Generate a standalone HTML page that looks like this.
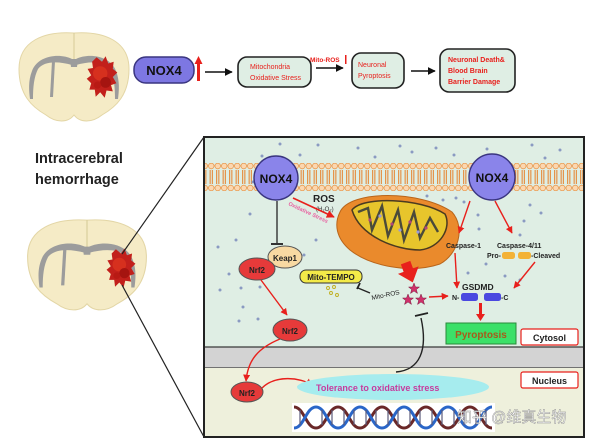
<!DOCTYPE html>
<html><head><meta charset="utf-8"><style>
html,body{margin:0;padding:0;background:#fff;}
svg{display:block;font-family:"Liberation Sans",Arial,sans-serif;}
</style></head><body>
<svg width="600" height="440" viewBox="0 0 600 440" xmlns="http://www.w3.org/2000/svg">
<defs>
<marker id="ab" viewBox="0 0 10 10" refX="9" refY="5" markerWidth="5" markerHeight="5" orient="auto"><path d="M0,0L10,5L0,10z" fill="#111"/></marker>
<marker id="ar" viewBox="0 0 10 10" refX="9" refY="5" markerWidth="5" markerHeight="5" orient="auto"><path d="M0,0L10,5L0,10z" fill="#e8201c"/></marker>
<pattern id="lip" x="0" y="163" width="6.5" height="28" patternUnits="userSpaceOnUse">
<circle cx="3.25" cy="3" r="2.8" fill="#fbd7b0" stroke="#e99a50" stroke-width="0.8"/>
<circle cx="3.25" cy="25" r="2.8" fill="#fbd7b0" stroke="#e99a50" stroke-width="0.8"/>
<rect x="1.6" y="7" width="1.1" height="14" fill="#e58a3a"/>
<rect x="3.8" y="7" width="1.1" height="14" fill="#e58a3a"/>
</pattern>
<g id="brain">
<path d="M0,-44 C30,-46 55,-36 55,-8 C55,18 42,30 28,38 C18,46 6,46 0,38 C-6,46 -18,46 -28,38 C-42,30 -55,18 -55,-8 C-55,-36 -30,-46 0,-44z" fill="#f5ebc6" stroke="#e3d6a6" stroke-width="1"/>
<line x1="0" y1="-44" x2="0" y2="-16" stroke="#d6cb98" stroke-width="1"/>
<path d="M-2,-18 C-14,-24 -36,-22 -42,-6 C-46,4 -45,14 -44,22 L-41,22 C-41,10 -40,0 -36,-8 C-30,-16 -16,-16 -2,-12z" fill="#9c9c9c"/>
<path d="M2,-18 C14,-24 36,-22 42,-6 C46,4 45,14 44,22 L41,22 C41,10 40,0 36,-8 C30,-16 16,-16 2,-12z" fill="#9c9c9c"/>
<path d="M-22,-16 L-24,20 L-21,20 L-19,-16z" fill="#9c9c9c"/>
<path d="M-4,-18 L4,-18 L3,-10 L-3,-10z" fill="#9c9c9c"/>
</g>
<g id="blood">
<path d="M-6,-22 L0,-17 L4,-23 L7,-15 L13,-17 L12,-9 L17,-5 L12,0 L16,7 L10,9 L12,16 L5,15 L3,23 L-2,17 L-7,22 L-8,14 L-14,14 L-12,7 L-17,2 L-12,-2 L-16,-9 L-10,-10 L-11,-17z" fill="#c2201b"/>
<circle cx="-2" cy="-4" r="8" fill="#d6301e"/><circle cx="4" cy="6" r="6" fill="#a51410"/><circle cx="-5" cy="9" r="4" fill="#b81a14"/>
</g>
</defs>

<!-- top row -->
<g transform="translate(74,77)"><use href="#brain"/></g>
<g transform="translate(102,77) scale(0.9)"><use href="#blood"/></g>
<rect x="134" y="57" width="60" height="26" rx="12" fill="#7d77e2" stroke="#3a3580" stroke-width="1.5"/>
<text x="164" y="75" font-size="13" font-weight="bold" text-anchor="middle" fill="#111">NOX4</text>
<path d="M197,81 L197,64 L194.5,64 L198.5,56 L202.5,64 L200,64 L200,81z" fill="#e8201c"/>
<line x1="205" y1="72" x2="232" y2="72" stroke="#111" stroke-width="1.6" marker-end="url(#ab)"/>
<rect x="238" y="57" width="73" height="30" rx="9" fill="#dfeee4" stroke="#222" stroke-width="1.6"/>
<text x="250" y="69" font-size="7" fill="#e8201c">Mitochondria</text>
<text x="250" y="80" font-size="7" fill="#e8201c">Oxidative Stress</text>
<text x="310" y="62" font-size="6.5" fill="#e8201c" font-weight="bold">Mito-ROS</text>
<rect x="345" y="55" width="1.5" height="9" fill="#e8201c"/>
<line x1="316" y1="68" x2="343" y2="68" stroke="#111" stroke-width="1.6" marker-end="url(#ab)"/>
<rect x="352" y="53" width="52" height="35" rx="9" fill="#dfeee4" stroke="#222" stroke-width="1.6"/>
<text x="358" y="67" font-size="7" fill="#e8201c">Neuronal</text>
<text x="358" y="78" font-size="7" fill="#e8201c">Pyroptosis</text>
<line x1="411" y1="71" x2="435" y2="71" stroke="#111" stroke-width="1.6" marker-end="url(#ab)"/>
<rect x="440" y="49" width="75" height="43" rx="9" fill="#dfeee4" stroke="#222" stroke-width="1.6"/>
<text x="448" y="62" font-size="7" fill="#e8201c" font-weight="bold">Neuronal Death&amp;</text>
<text x="448" y="73" font-size="7" fill="#e8201c" font-weight="bold">Blood Brain</text>
<text x="448" y="84" font-size="7" fill="#e8201c" font-weight="bold">Barrier Damage</text>

<text x="35" y="163" font-size="14.5" font-weight="bold" fill="#222">Intracerebral</text>
<text x="35" y="184" font-size="14.5" font-weight="bold" fill="#222">hemorrhage</text>
<g transform="translate(87,265) scale(1.08,1.02)"><use href="#brain"/></g>
<g transform="translate(121,268) scale(0.85)"><use href="#blood"/></g>
<line x1="122" y1="254" x2="204" y2="137" stroke="#222" stroke-width="1.2"/>
<line x1="122" y1="285" x2="204" y2="437" stroke="#222" stroke-width="1.2"/>

<!-- main box -->
<rect x="204" y="137" width="380" height="210" fill="#dfeee4"/>
<rect x="204" y="163" width="380" height="28" fill="url(#lip)"/>
<rect x="204" y="347" width="380" height="21" fill="#d3d3d3" stroke="#333" stroke-width="1.2"/>
<rect x="204" y="368" width="380" height="69" fill="#eef0dc"/>
<rect x="204" y="137" width="380" height="300" fill="none" stroke="#222" stroke-width="2"/>

<g fill="#8a9ac2">
<circle cx="280" cy="144" r="1.5"/><circle cx="318" cy="145" r="1.5"/><circle cx="358" cy="148" r="1.5"/><circle cx="400" cy="146" r="1.5"/><circle cx="436" cy="148" r="1.5"/><circle cx="487" cy="149" r="1.5"/><circle cx="532" cy="145" r="1.5"/><circle cx="560" cy="150" r="1.5"/><circle cx="262" cy="156" r="1.5"/><circle cx="375" cy="157" r="1.5"/><circle cx="454" cy="155" r="1.5"/><circle cx="545" cy="158" r="1.5"/><circle cx="300" cy="155" r="1.5"/><circle cx="412" cy="152" r="1.5"/>
<circle cx="253" cy="182" r="1.5"/><circle cx="427" cy="196" r="1.5"/><circle cx="443" cy="200" r="1.5"/><circle cx="456" cy="198" r="1.5"/><circle cx="464" cy="202" r="1.5"/><circle cx="447" cy="213" r="1.5"/><circle cx="530" cy="205" r="1.5"/><circle cx="541" cy="213" r="1.5"/><circle cx="524" cy="221" r="1.5"/><circle cx="478" cy="215" r="1.5"/><circle cx="479" cy="229" r="1.5"/><circle cx="455" cy="232" r="1.5"/><circle cx="520" cy="235" r="1.5"/>
<circle cx="250" cy="214" r="1.5"/><circle cx="218" cy="247" r="1.5"/><circle cx="236" cy="240" r="1.5"/><circle cx="229" cy="274" r="1.5"/><circle cx="241" cy="288" r="1.5"/><circle cx="220" cy="290" r="1.5"/><circle cx="243" cy="307" r="1.5"/><circle cx="239" cy="321" r="1.5"/><circle cx="258" cy="319" r="1.5"/><circle cx="260" cy="287" r="1.5"/><circle cx="316" cy="240" r="1.5"/><circle cx="304" cy="255" r="1.5"/><circle cx="486" cy="264" r="1.5"/><circle cx="468" cy="273" r="1.5"/><circle cx="505" cy="276" r="1.5"/><circle cx="520" cy="280" r="1.5"/>
</g>

<!-- NOX4 circles -->
<circle cx="276" cy="178" r="22" fill="#8a84ea" stroke="#3a3580" stroke-width="1.4"/>
<text x="276" y="183" font-size="12" font-weight="bold" text-anchor="middle" fill="#111">NOX4</text>
<circle cx="492" cy="177" r="23" fill="#8a84ea" stroke="#3a3580" stroke-width="1.4"/>
<text x="492" y="182" font-size="12" font-weight="bold" text-anchor="middle" fill="#111">NOX4</text>

<!-- ROS -->
<text x="313" y="202" font-size="10" font-weight="bold" fill="#222">ROS</text>
<text x="316" y="211" font-size="6" fill="#333">(H₂O₂)</text>
<line x1="293" y1="198" x2="334" y2="217" stroke="#e8201c" stroke-width="1.6" marker-end="url(#ar)"/>
<text x="288" y="205" font-size="5.5" font-weight="bold" fill="#e860a0" transform="rotate(25 288 205)">Oxidative Stress</text>

<!-- mitochondrion -->
<path d="M340,212 C350,190 420,190 452,212 C466,228 458,254 440,264 C410,274 370,266 350,250 C336,238 334,224 340,212z" fill="#ea8a2c" stroke="#b9651a" stroke-width="1"/>
<path d="M352,210 C362,196 420,198 445,214 C452,228 440,248 420,250 C395,250 360,236 352,210z" fill="#e7c52c" stroke="#4a3a20" stroke-width="1.5"/>
<path d="M358,212 L368,208 L372,230 L382,206 L388,236 L398,210 L404,240 L414,212 L420,238 L430,218 L438,232" fill="none" stroke="#4a4a3a" stroke-width="2.4"/>
<g fill="#b0457a"><circle cx="370" cy="220" r="1.6"/><circle cx="392" cy="224" r="1.6"/><circle cx="410" cy="222" r="1.6"/><circle cx="426" cy="228" r="1.6"/></g>
<g fill="#9a9ad8"><circle cx="380" cy="216" r="1.6"/><circle cx="400" cy="230" r="1.6"/><circle cx="418" cy="232" r="1.6"/></g>
<path d="M404,262 L414,262 L414,270 L420,270 L409,283 L398,270 L404,270z" fill="#e8201c" transform="rotate(-20 409 272)"/>

<!-- Keap1/Nrf2 -->
<line x1="277" y1="201" x2="277" y2="243" stroke="#333" stroke-width="1.4"/>
<line x1="271" y1="244" x2="283" y2="244" stroke="#333" stroke-width="2"/>
<ellipse cx="285" cy="257" rx="17" ry="11" fill="#f8d9a2" stroke="#555" stroke-width="1"/>
<text x="285" y="261" font-size="8" font-weight="bold" text-anchor="middle" fill="#222">Keap1</text>
<ellipse cx="257" cy="269" rx="18" ry="11" fill="#e63a3a" stroke="#555" stroke-width="1"/>
<text x="257" y="273" font-size="8" font-weight="bold" text-anchor="middle" fill="#222">Nrf2</text>
<path d="M261,280 L287,315" stroke="#e8201c" stroke-width="1.4" fill="none" marker-end="url(#ar)"/>
<ellipse cx="290" cy="330" rx="17" ry="11" fill="#e63a3a" stroke="#555" stroke-width="1"/>
<text x="290" y="334" font-size="8" font-weight="bold" text-anchor="middle" fill="#222">Nrf2</text>
<path d="M280,339 C258,348 248,360 246,381" stroke="#e8201c" stroke-width="1.4" fill="none" marker-end="url(#ar)"/>
<ellipse cx="247" cy="392" rx="16" ry="10" fill="#e63a3a" stroke="#555" stroke-width="1"/>
<text x="247" y="396" font-size="8" font-weight="bold" text-anchor="middle" fill="#222">Nrf2</text>
<path d="M262,388 C275,375 300,377 312,385" stroke="#e8201c" stroke-width="1.4" fill="none" marker-end="url(#ar)"/>

<!-- Mito-TEMPO -->
<rect x="300" y="270" width="62" height="13" rx="6" fill="#f3ea48" stroke="#333" stroke-width="1"/>
<text x="331" y="280" font-size="8" font-weight="bold" text-anchor="middle" fill="#222">Mito-TEMPO</text>
<g fill="none" stroke="#c0b020" stroke-width="0.9"><circle cx="328" cy="288" r="1.5"/><circle cx="334" cy="287" r="1.5"/><circle cx="331" cy="293" r="1.5"/><circle cx="337" cy="295" r="1.5"/></g>
<line x1="358" y1="288" x2="370" y2="293" stroke="#222" stroke-width="1.4"/>
<line x1="357" y1="289" x2="360" y2="283" stroke="#222" stroke-width="1.8"/>
<text x="372" y="300" font-size="6.5" fill="#222" transform="rotate(-12 372 300)">Mito-ROS</text>
<g fill="#d0306a" stroke="#7a1a40" stroke-width="0.5">
<polygon points="414,283 415.5,287 419.5,287 416.3,289.5 417.5,293.5 414,291 410.5,293.5 411.7,289.5 408.5,287 412.5,287"/>
<polygon points="408,294 409.5,298 413.5,298 410.3,300.5 411.5,304.5 408,302 404.5,304.5 405.7,300.5 402.5,298 406.5,298"/>
<polygon points="421,294 422.5,298 426.5,298 423.3,300.5 424.5,304.5 421,302 417.5,304.5 418.7,300.5 415.5,298 419.5,298"/>
</g>
<line x1="429" y1="297" x2="448" y2="296" stroke="#e8201c" stroke-width="1.4" marker-end="url(#ar)"/>

<!-- black inhibition curve -->
<path d="M396,372 C420,370 428,350 421,318" stroke="#222" stroke-width="1.4" fill="none"/>
<line x1="415" y1="316" x2="428" y2="313" stroke="#222" stroke-width="1.8"/>

<!-- caspase side -->
<line x1="470" y1="201" x2="459" y2="233" stroke="#e8201c" stroke-width="1.4" marker-end="url(#ar)"/>
<line x1="495" y1="201" x2="512" y2="233" stroke="#e8201c" stroke-width="1.4" marker-end="url(#ar)"/>
<text x="446" y="248" font-size="7" font-weight="bold" fill="#222">Caspase-1</text>
<text x="497" y="248" font-size="7" font-weight="bold" fill="#222">Caspase-4/11</text>
<text x="487" y="258" font-size="7" font-weight="bold" fill="#222">Pro-</text>
<rect x="502" y="252" width="13" height="7" rx="2.5" fill="#f3b236"/>
<rect x="518" y="252" width="13" height="7" rx="2.5" fill="#f3b236"/>
<text x="531" y="258" font-size="7" font-weight="bold" fill="#222">-Cleaved</text>
<line x1="455" y1="253" x2="457" y2="288" stroke="#e8201c" stroke-width="1.4" marker-end="url(#ar)"/>
<line x1="535" y1="262" x2="514" y2="288" stroke="#e8201c" stroke-width="1.4" marker-end="url(#ar)"/>
<text x="462" y="290" font-size="8.5" font-weight="bold" fill="#222">GSDMD</text>
<text x="452" y="300" font-size="7" font-weight="bold" fill="#222">N-</text>
<rect x="461" y="293" width="17" height="8" rx="2.5" fill="#4a48e0"/>
<rect x="484" y="293" width="17" height="8" rx="2.5" fill="#4a48e0"/>
<text x="501" y="300" font-size="7" font-weight="bold" fill="#222">-C</text>
<path d="M479,303 L482,303 L482,314 L485,314 L480.5,321 L476,314 L479,314z" fill="#e8201c"/>
<rect x="446" y="323" width="70" height="21" fill="#3be068" stroke="#2a8a3a" stroke-width="1"/>
<text x="481" y="338" font-size="10" font-weight="bold" text-anchor="middle" fill="#a85a1a">Pyroptosis</text>
<rect x="521" y="329" width="57" height="16" rx="2" fill="#fff" stroke="#e8201c" stroke-width="1.2"/>
<text x="549.5" y="341" font-size="9" font-weight="bold" text-anchor="middle" fill="#222">Cytosol</text>
<rect x="521" y="372" width="57" height="16" rx="2" fill="#fff" stroke="#e8201c" stroke-width="1.2"/>
<text x="549.5" y="384" font-size="9" font-weight="bold" text-anchor="middle" fill="#222">Nucleus</text>

<!-- tolerance -->
<ellipse cx="393" cy="387" rx="96" ry="13" fill="#a6ecee"/>
<text x="316" y="391" font-size="9" font-weight="bold" fill="#c63c9e">Tolerance to oxidative stress</text>

<!-- DNA -->
<rect x="292" y="403" width="203" height="29" fill="#fff"/>
<path d="M294,407 C304,407 306,428 316,428 C326,428 328,407 338,407 C348,407 350,428 360,428 C370,428 372,407 382,407 C392,407 394,428 404,428 C414,428 416,407 426,407 C436,407 438,428 448,428 C458,428 460,407 470,407 C480,407 482,428 492,428" fill="none" stroke="#6a2828" stroke-width="3"/>
<path d="M294,428 C304,428 306,407 316,407 C326,407 328,428 338,428 C348,428 350,407 360,407 C370,407 372,428 382,428 C392,428 394,407 404,407 C414,407 416,428 426,428 C436,428 438,407 448,407 C458,407 460,428 470,428 C480,428 482,407 492,407" fill="none" stroke="#2a66c8" stroke-width="3"/>
<g stroke="#5a5a7a" stroke-width="1.2">
<line x1="300" y1="410" x2="300" y2="425"/><line x1="322" y1="410" x2="322" y2="425"/><line x1="332" y1="410" x2="332" y2="425"/><line x1="344" y1="410" x2="344" y2="425"/><line x1="354" y1="410" x2="354" y2="425"/><line x1="366" y1="410" x2="366" y2="425"/><line x1="376" y1="410" x2="376" y2="425"/><line x1="388" y1="410" x2="388" y2="425"/><line x1="398" y1="410" x2="398" y2="425"/><line x1="410" y1="410" x2="410" y2="425"/><line x1="420" y1="410" x2="420" y2="425"/><line x1="432" y1="410" x2="432" y2="425"/><line x1="442" y1="410" x2="442" y2="425"/><line x1="454" y1="410" x2="454" y2="425"/><line x1="464" y1="410" x2="464" y2="425"/><line x1="476" y1="410" x2="476" y2="425"/><line x1="486" y1="410" x2="486" y2="425"/>
</g>
<text x="457" y="422" font-size="15" fill="#fff" stroke="#888" stroke-width="0.4" font-family="'Liberation Sans','Noto Sans CJK SC',sans-serif">知乎 @维真生物</text>
</svg>
</body></html>
